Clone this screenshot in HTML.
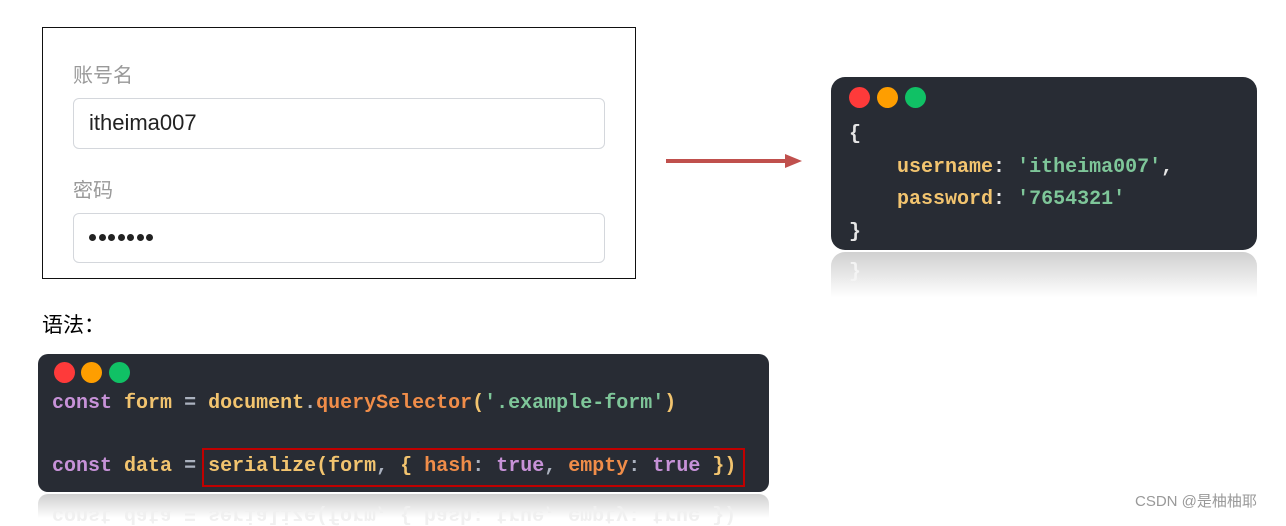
<!DOCTYPE html>
<html><head><meta charset="utf-8"><style>
*{margin:0;padding:0;box-sizing:border-box}
body{width:1286px;height:518px;background:#fff;position:relative;overflow:hidden;font-family:"Liberation Sans","Noto Sans CJK SC",sans-serif}
.a{position:absolute}
.code{font-family:"Liberation Mono","DejaVu Sans Mono",monospace;font-size:20px;white-space:pre;color:#abb2bf;line-height:24px;font-weight:bold}
.dot{position:absolute;width:21px;height:21px;border-radius:50%}
.r{background:#fe3a3a}.o{background:#fe9e00}.g{background:#10c165}
.kw{color:#c792d8}.y{color:#f2c46f}.s{color:#7ec699}.fn{color:#f08d49}.p{color:#abb2bf}.w{color:#e6e6e6}
.pd{position:absolute;top:234px;width:7px;height:7px;border-radius:50%;background:#222}
</style></head><body>
<div class="a" style="left:42px;top:27px;width:594px;height:252px;border:1.5px solid #111"></div>
<div class="a" style="left:73px;top:59px;font-size:20px;color:#999">账号名</div>
<div class="a" style="left:73px;top:98px;width:532px;height:51px;border:1px solid #d4d7dc;border-radius:6px"></div>
<div class="a" style="left:89px;top:110px;font-size:22px;color:#222">itheima007</div>
<div class="a" style="left:73px;top:174px;font-size:20px;color:#999">密码</div>
<div class="a" style="left:73px;top:213px;width:532px;height:50px;border:1px solid #d4d7dc;border-radius:6px"></div>
<div class="pd" style="left:89px"></div><div class="pd" style="left:98.5px"></div><div class="pd" style="left:108px"></div><div class="pd" style="left:117.5px"></div><div class="pd" style="left:127px"></div><div class="pd" style="left:136.5px"></div><div class="pd" style="left:146px"></div>

<svg class="a" style="left:660px;top:145px" width="150" height="30">
<line x1="6" y1="16" x2="128" y2="16" stroke="#c0504d" stroke-width="4"/>
<polygon points="125,9 142,16 125,23" fill="#c0504d"/></svg>

<div class="a" style="left:831px;top:77px;width:426px;height:173px;background:#282c34;border-radius:14px"></div>
<div class="dot r" style="left:849px;top:87px"></div><div class="dot o" style="left:877px;top:87px"></div><div class="dot g" style="left:905px;top:87px"></div>
<div class="a code" style="left:849px;top:119px;line-height:32.5px"><span class="w">{</span>
    <span class="y">username</span><span class="w">:</span> <span class="s">'itheima007'</span><span class="w">,</span>
    <span class="y">password</span><span class="w">:</span> <span class="s">'7654321'</span>
<span class="w">}</span></div>
<div class="a" style="left:831px;top:252px;width:426px;height:48px;border-radius:14px 14px 0 0;background:linear-gradient(#d0d0d0,#fff 95%)"></div>
<div class="a code" style="left:849px;top:258px;color:#f4f4f4;transform:scaleY(-1)">}</div>

<div class="a" style="left:42px;top:309px;font-size:21px;color:#000">语法：</div>

<div class="a" style="left:38px;top:354px;width:731px;height:138px;background:#282c34;border-radius:10px"></div>
<div class="dot r" style="left:54px;top:362px"></div><div class="dot o" style="left:81px;top:362px"></div><div class="dot g" style="left:109px;top:362px"></div>
<div class="a code" style="left:52px;top:392px"><span class="kw">const</span> <span class="y">form</span> <span class="p">=</span> <span class="y">document</span><span class="p">.</span><span class="fn">querySelector</span><span class="y">(</span><span class="s">'.example-form'</span><span class="y">)</span></div>
<div class="a code" style="left:52px;top:455px"><span class="kw">const</span> <span class="y">data</span> <span class="p">=</span> <span class="y">serialize(form</span><span class="p">,</span> <span class="y">{</span> <span class="fn">hash</span><span class="p">:</span> <span class="kw">true</span><span class="p">,</span> <span class="fn">empty</span><span class="p">:</span> <span class="kw">true</span> <span class="y">})</span></div>
<div class="a" style="left:202px;top:448px;width:543px;height:39px;border:2px solid #c00000"></div>
<div class="a" style="left:38px;top:494px;width:731px;height:24px;border-radius:10px 10px 0 0;background:linear-gradient(#cfcfcf,#fff)"></div>
<div class="a code" style="left:52px;top:502px;color:#f0f0f0;transform:scaleY(-1)">const data = serialize(form, { hash: true, empty: true })</div>

<div class="a" style="left:1135px;top:490px;font-size:15px;color:#999">CSDN @是柚柚耶</div>
</body></html>
